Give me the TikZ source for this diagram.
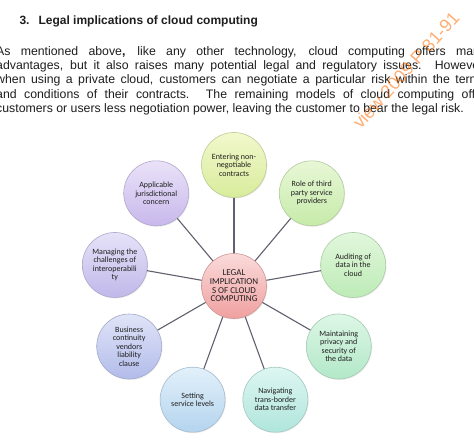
\documentclass[tikz,border=0pt]{standalone}
\usepackage{fontspec}
\setmainfont{Liberation Sans}
\newfontfamily\bubblefont{Carlito}
\usetikzlibrary{positioning, calc, shadows}
\usepackage{xcolor}
\definecolor{legal-top}{HTML}{FADADA}\definecolor{legal-bot}{HTML}{F0A0A0}
\definecolor{enter-top}{HTML}{F2F8CC}\definecolor{enter-bot}{HTML}{D8EC9C}
\definecolor{role-top}{HTML}{E8F7D6}\definecolor{role-bot}{HTML}{C6EBAA}
\definecolor{audit-top}{HTML}{E2F7DC}\definecolor{audit-bot}{HTML}{BDEBB6}
\definecolor{maint-top}{HTML}{DDF7E6}\definecolor{maint-bot}{HTML}{B2E8C8}
\definecolor{navig-top}{HTML}{DDF6F2}\definecolor{navig-bot}{HTML}{B0E6DC}
\definecolor{setlev-top}{HTML}{E2F0FA}\definecolor{setlev-bot}{HTML}{B4D4EE}
\definecolor{busin-top}{HTML}{E0E4F8}\definecolor{busin-bot}{HTML}{B2BCEA}
\definecolor{manag-top}{HTML}{E6E2F8}\definecolor{manag-bot}{HTML}{C0B8EA}
\definecolor{appl-top}{HTML}{EAE2F8}\definecolor{appl-bot}{HTML}{C8B8EC}
\definecolor{linkgray}{HTML}{60606E}
\definecolor{bodytext}{HTML}{1E1E1E}

\begin{document}
\begin{tikzpicture}[
  x=1pt, y=1pt,
  every node/.style={text=bodytext},
  bubble/.style={circle, minimum size=65pt, inner sep=0pt, align=center,
    font=\bubblefont\fontsize{8}{8.5}\selectfont,
    top color=#1-top, bottom color=#1-bot, draw=#1-bot!70!gray, line width=0.6pt,
    drop shadow={opacity=0.15, shadow xshift=0.8pt, shadow yshift=-1pt}},
  link/.style={draw=linkgray, line width=1.1pt}
]
  \fill[white] (0,0) rectangle (474,442);
  \useasboundingbox (0,0) rectangle (474,442);

  % heading and text
  \node[anchor=base west, font=\bfseries\fontsize{12}{14}\selectfont]
    (title) at (16, 417) {3.\hspace{9pt}Legal implications of cloud computing};
  \node[anchor=north west, inner sep=0pt, text width=490pt, align=justify,
    font=\fontsize{12.3}{14.4}\selectfont] (para) at (-4, 396) {%
    As mentioned above\textbf{,} like any other technology, cloud computing offers many\linebreak
    advantages, but it also raises many potential legal and regulatory issues. However,\linebreak
    when using a private cloud, customers can negotiate a particular risk within the terms\linebreak
    and conditions of their contracts. The remaining models of cloud computing offer\linebreak
    customers or users less negotiation power, leaving the customer to bear the legal risk.};

  % watermark
  \node[rotate=48, text=orange!85!red, opacity=0.55, font=\fontsize{18}{18}\selectfont]
    (mark) at (406, 372) {view 2009 P 81-91};

  % the bubbles
  \node[bubble=legal, font=\bubblefont\fontsize{9}{8.6}\selectfont]
    (legal) at (234, 156) {LEGAL\\IMPLICATION\\S OF CLOUD\\COMPUTING};
  \foreach \ang/\nm/\txt in {
      90/enter/{Entering non-\\negotiable\\contracts},
      50/role/{Role of third\\party service\\providers},
      10/audit/{Auditing of\\data in the\\cloud},
      -30/maint/{Maintaining\\privacy and\\security of\\the data},
      -70/navig/{Navigating\\trans-border\\data transfer},
      -110/setlev/{Setting\\service levels},
      -150/busin/{Business\\continuity\\vendors\\liability\\clause},
      170/manag/{Managing the\\challenges of\\interoperabili\\ty},
      130/appl/{Applicable\\jurisdictional\\concern}}
    \node[bubble=\nm] (\nm) at ($(legal)+(\ang:121)$) {\txt};

  \foreach \nm in {enter,role,audit,maint,navig,setlev,busin,manag,appl}
    \draw[link] (legal) -- (\nm);
\end{tikzpicture}
\end{document}
